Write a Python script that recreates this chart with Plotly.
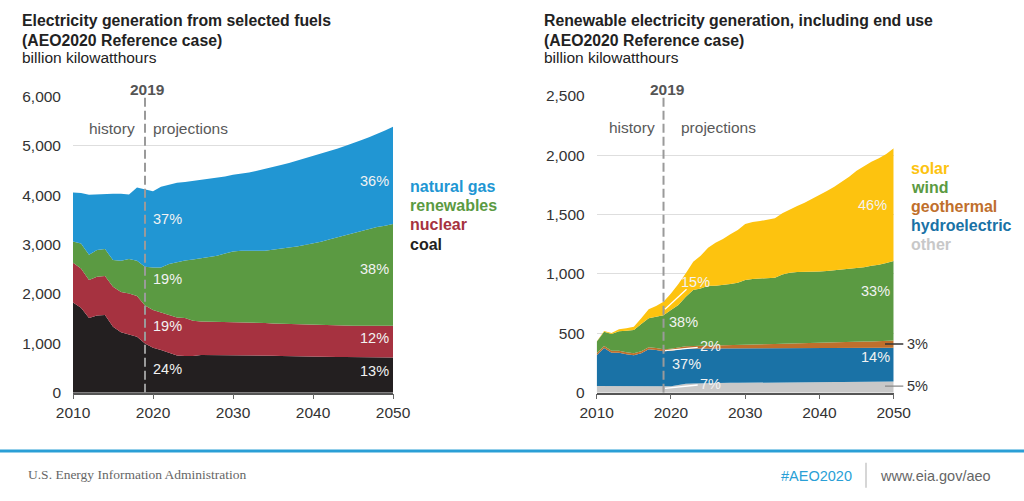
import plotly.graph_objects as go

years = list(range(2010, 2051))

# Left chart: electricity generation from selected fuels (billion kWh)
coal = [1829,1721,1512,1566,1573,1336,1222,1181,1134,999,911,864,817,756,742,742,763,763,763,763,
        760,755,755,760,755,750,745,740,737,733,729,727,725,724,722,720,719,718,717,716,715]
nuclear = [803,797,769,783,789,810,816,830,823,769,763,763,769,769,770,716,681,677,677,677,
           678,681,677,657,655,650,650,650,648,645,641,639,637,636,636,637,638,639,640,641,642]
renewables = [432,506,513,540,547,540,635,696,716,783,864,911,1019,1121,1168,1242,1276,1307,1334,1381,
              1424,1440,1450,1459,1466,1502,1528,1553,1578,1612,1654,1692,1743,1785,1828,1869,1923,1964,1998,2025,2058]
natural_gas = [993,1019,1215,1127,1127,1344,1357,1309,1485,1566,1545,1633,1614,1606,1586,1586,1586,1580,1573,1560,
               1552,1559,1580,1619,1653,1668,1687,1708,1735,1748,1762,1775,1782,1796,1809,1836,1836,1856,1883,1930,1971]

# Right chart: renewable generation incl. end use (billion kWh)
other = [56,56,56,57,57,56,55,54,53,51,55,65,75,78,80,81,82,82,83,83,
         84,84,85,85,86,86,87,87,88,88,89,89,90,90,91,91,92,92,93,94,95]
hydro = [259,320,281,279,266,259,277,311,306,297,299,300,298,295,293,292,291,291,290,291,
         290,290,289,289,288,289,288,288,288,288,287,287,287,287,286,287,286,286,285,285,284]
geothermal = [17,17,17,17,17,17,17,17,17,17,17,18,19,20,21,22,24,25,27,28,
              30,31,33,34,36,38,39,41,42,44,45,46,47,48,49,50,52,54,56,58,60]
wind = [97,121,140,164,182,195,229,244,264,286,325,355,416,471,484,506,504,508,515,524,
        544,552,553,554,558,583,596,600,598,599,600,602,606,610,615,619,625,637,643,655,669]
solar = [3,5,8,17,20,29,48,76,90,115,140,177,197,239,275,320,362,388,418,443,
         472,480,485,492,500,514,533,555,583,611,643,674,704,741,777,822,853,876,896,917,949]

left_series = [("coal", coal, "#231f20"), ("nuclear", nuclear, "#a63240"),
               ("renewables", renewables, "#5b9a42"), ("natural gas", natural_gas, "#2196d3")]
right_series = [("other", other, "#c8c8c8"), ("hydroelectric", hydro, "#1a72a6"),
                ("geothermal", geothermal, "#bf6f2c"), ("wind", wind, "#5b9a42"),
                ("solar", solar, "#fdc30f")]

left_ticks = [0, 1000, 2000, 3000, 4000, 5000, 6000]
right_ticks = [0, 500, 1000, 1500, 2000, 2500]
x_ticks = [2010, 2020, 2030, 2040, 2050]

FONT = "Liberation Sans, Arial, sans-serif"
W, H = 1024, 501

fig = go.Figure()
for name, vals, col in left_series:
    fig.add_trace(go.Scatter(x=years, y=vals, name=name, stackgroup="left", mode="lines",
                             line=dict(width=0, color=col), fillcolor=col,
                             xaxis="x", yaxis="y", showlegend=False, hoverinfo="skip"))
for name, vals, col in right_series:
    fig.add_trace(go.Scatter(x=years, y=vals, name=name, stackgroup="right", mode="lines",
                             line=dict(width=0, color=col), fillcolor=col,
                             xaxis="x2", yaxis="y2", showlegend=False, hoverinfo="skip"))

def px_x(p):
    return p / W

def px_y(p):
    return 1 - p / H

xax = dict(range=[2010, 2050], tickvals=x_ticks, ticks="outside", ticklen=5, tickcolor="#666",
           showline=True, linecolor="#555", linewidth=1.5, showgrid=False, zeroline=False,
           tickfont=dict(size=15.5, color="#333"), fixedrange=True, automargin=False)
yax = dict(showgrid=True, gridcolor="#dedede", gridwidth=1, zeroline=False, showline=False,
           ticks="", tickformat=",d", tickfont=dict(size=15.5, color="#333"),
           ticklabelstandoff=11, fixedrange=True, automargin=False)

fig.update_layout(
    template="none",
    width=W, height=H, margin=dict(l=0, r=0, t=0, b=0, pad=0, autoexpand=False),
    paper_bgcolor="white", plot_bgcolor="white", showlegend=False,
    font=dict(family=FONT, color="#333"),
    xaxis=dict(xax, domain=[px_x(73), px_x(393)], anchor="y"),
    yaxis=dict(yax, domain=[px_y(392.7), px_y(96.5)], range=[0, 6000], tickvals=left_ticks, anchor="x"),
    xaxis2=dict(xax, domain=[px_x(596.7), px_x(893.7)], anchor="y2"),
    yaxis2=dict(yax, domain=[px_y(392.7), px_y(95.7)], range=[0, 2500], tickvals=right_ticks, anchor="x2"),
)

ann = []
def A(text, x, y, xref="paper", yref="paper", xanchor="left", size=15.5, color="#333", family=FONT, yanchor="middle"):
    ann.append(dict(text=text, x=x, y=y, xref=xref, yref=yref, xanchor=xanchor, yanchor=yanchor,
                    showarrow=False, font=dict(size=size, color=color, family=family)))

# Titles
A("<b>Electricity generation from selected fuels</b>", px_x(20), px_y(20.7), size=15.8, color="#222")
A("<b>(AEO2020 Reference case)</b>", px_x(20), px_y(40), size=15.8, color="#222")
A("billion kilowatthours", px_x(20), px_y(58), size=15.5, color="#222")
A("<b>Renewable electricity generation, including end use</b>", px_x(541.5), px_y(20.7), size=15.8, color="#222")
A("<b>(AEO2020 Reference case)</b>", px_x(541.5), px_y(40), size=15.8, color="#222")
A("billion kilowatthours", px_x(541.5), px_y(58), size=15.5, color="#222")

# 2019 / history / projections
A("<b>2019</b>", px_x(147.7), px_y(90), xanchor="center", color="#555")
A("history", px_x(137), px_y(128.3), xanchor="right", color="#595959")
A("projections", px_x(151), px_y(128.3), xanchor="left", color="#595959")
A("<b>2019</b>", px_x(667.7), px_y(89), xanchor="center", color="#555")
A("history", px_x(656.5), px_y(127.3), xanchor="right", color="#595959")
A("projections", px_x(678.7), px_y(127.3), xanchor="left", color="#595959")

# Legend labels
left_leg_y = [186, 205.3, 224.7, 244]
for (name, _, col), yy in zip(reversed(left_series), left_leg_y):
    A("<b>%s</b>" % name, px_x(408), px_y(yy), color=col, size=16)
right_leg_y = [168.3, 187.3, 206.7, 226, 244.7]
for (name, _, col), yy in zip(reversed(right_series), right_leg_y):
    A("<b>%s</b>" % name, px_x(909), px_y(yy), color=col, size=16)

# Percent labels, left chart
W_TXT = "#f2f2f2"
for t, v in [("37%", 3524), ("19%", 2297), ("19%", 1357), ("24%", 486)]:
    A(t, 2019.75, v, xref="x", yref="y", color=W_TXT, size=14.5)
for t, v in [("36%", 4294), ("38%", 2512), ("12%", 1114), ("13%", 440)]:
    A(t, 2049.7, v, xref="x", yref="y", xanchor="right", color=W_TXT, size=14.5)

# Percent labels, right chart
A("15%", 2023.37, 932, xref="x2", yref="y2", xanchor="center", color=W_TXT, size=14.5)
A("38%", 2019.47, 598, xref="x2", yref="y2", color=W_TXT, size=14.5)
A("2%", 2023.7, 393, xref="x2", yref="y2", color=W_TXT, size=14.5)
A("37%", 2019.87, 242, xref="x2", yref="y2", color=W_TXT, size=14.5)
A("7%", 2023.7, 73, xref="x2", yref="y2", color=W_TXT, size=14.5)
A("46%", 2047.1, 1578, xref="x2", yref="y2", xanchor="center", color=W_TXT, size=14.5)
A("33%", 2047.55, 859, xref="x2", yref="y2", xanchor="center", color=W_TXT, size=14.5)
A("14%", 2047.5, 298, xref="x2", yref="y2", xanchor="center", color=W_TXT, size=14.5)
A("3%", px_x(905), 410, yref="y2", color="#333", size=14.5)
A("5%", px_x(905), 56, yref="y2", color="#333", size=14.5)

# Footer
A("U.S. Energy Information Administration", px_x(26), px_y(474.3), size=13.5, color="#666",
  family="Liberation Serif, Times New Roman, serif")
A("#AEO2020", px_x(779), px_y(476), size=14.5, color="#2a9fd6")
A("www.eia.gov/aeo", px_x(877.5), px_y(476), size=14.5, color="#666")

shapes = [
    dict(type="line", xref="x", yref="y", x0=2019, x1=2019, y0=0, y1=6000,
         line=dict(color="#9a9a9a", width=2, dash="9px,4px"), layer="above"),
    dict(type="line", xref="x2", yref="y2", x0=2019, x1=2019, y0=0, y1=2500,
         line=dict(color="#9a9a9a", width=2, dash="9px,4px"), layer="above"),
    # leader lines
    dict(type="line", xref="x2", yref="y2", x0=2019.2, y0=702, x1=2022.1, y1=870,
         line=dict(color="white", width=1.3), layer="above"),
    dict(type="line", xref="x2", yref="y2", x0=2019.2, y0=354, x1=2023.6, y1=382,
         line=dict(color="white", width=1.3), layer="above"),
    dict(type="line", xref="x2", yref="y2", x0=2019.2, y0=37, x1=2023.6, y1=65,
         line=dict(color="white", width=1.3), layer="above"),
    dict(type="line", xref="paper", yref="y2", x0=px_x(885), x1=px_x(903.3), y0=410, y1=410,
         line=dict(color="#333", width=1.3), layer="above"),
    dict(type="line", xref="paper", yref="y2", x0=px_x(885), x1=px_x(903.3), y0=56, y1=56,
         line=dict(color="#888", width=1.3), layer="above"),
    # footer rule and separator
    dict(type="line", xref="paper", yref="paper", x0=0, x1=1, y0=px_y(451), y1=px_y(451),
         line=dict(color="#2a9fd6", width=3)),
    dict(type="line", xref="paper", yref="paper", x0=px_x(866), x1=px_x(866), y0=px_y(462.7), y1=px_y(487.7),
         line=dict(color="#c8c8c8", width=1.5)),
]

fig.update_layout(annotations=ann, shapes=shapes)
fig.write_html("out.html")
